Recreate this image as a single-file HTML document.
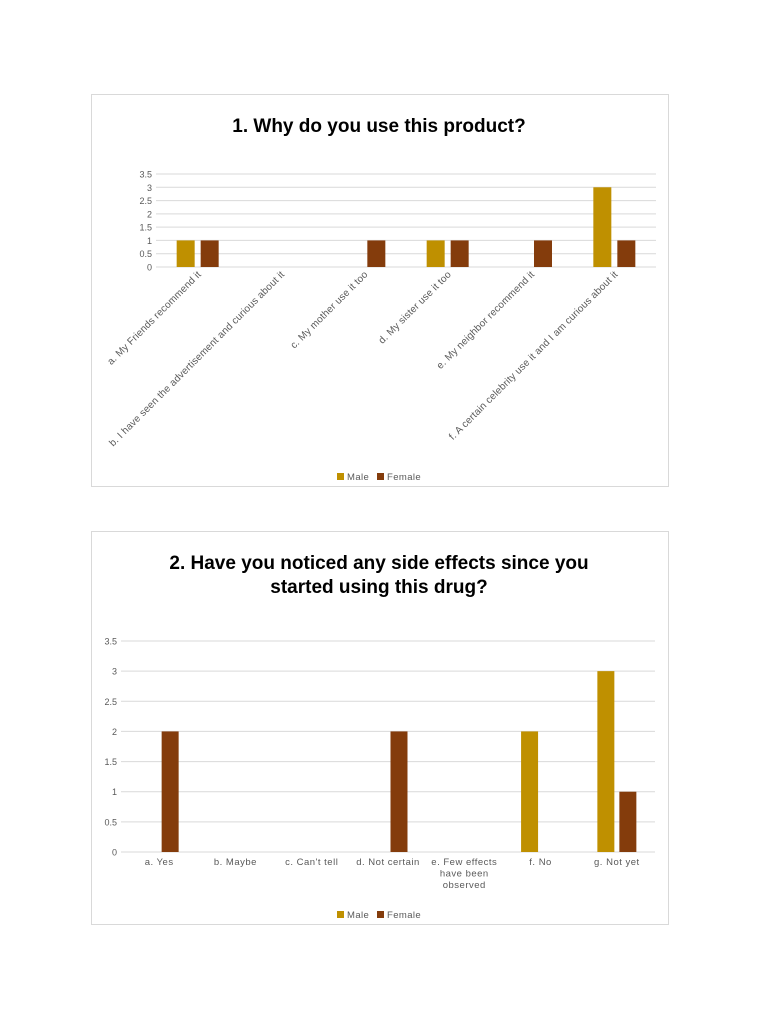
<!DOCTYPE html>
<html><head><meta charset="utf-8"><style>
body{margin:0;background:#fff;width:768px;height:1024px;overflow:hidden;font-family:"Liberation Sans",sans-serif}
svg text{font-family:"Liberation Sans",sans-serif}
</style></head><body>
<svg id="s" width="768" height="1024">
<rect x="91.5" y="94.5" width="577" height="392" fill="#fff" stroke="#d9d9d9"/>
<rect x="91.5" y="531.5" width="577" height="393" fill="#fff" stroke="#d9d9d9"/>
<text x="379" y="132" font-size="19" font-weight="bold" text-anchor="middle" fill="#000">1. Why do you use this product?</text>
<text x="379" y="569" font-size="19" font-weight="bold" text-anchor="middle" fill="#000">2. Have you noticed any side effects since you</text>
<text x="379" y="593" font-size="19" font-weight="bold" text-anchor="middle" fill="#000">started using this drug?</text>
<g id="c1"></g><g id="c2"></g>
</svg>
<script>
const MALE="#bf9000", FEMALE="#843c0c";
const cats1=["a. My Friends recommend it","b. I have seen the advertisement and curious about it","c. My mother use it too","d. My sister use it too","e. My neighbor recommend it","f. A certain celebrity use it and I am curious about it"];
const male1=[1,0,0,1,0,3];
const female1=[1,0,1,1,1,1];
const cats2=[["a. Yes"],["b. Maybe"],["c. Can't tell"],["d. Not certain"],["e. Few effects","have been","observed"],["f. No"],["g. Not yet"]];
const male2=[0,0,0,0,0,2,3];
const female2=[2,0,0,2,0,0,1];
const ticks=[0,0.5,1,1.5,2,2.5,3,3.5];
const tickLabels=["0","0.5","1","1.5","2","2.5","3","3.5"];
const NS="http://www.w3.org/2000/svg";
function mk(p,t,a){const e=document.createElementNS(NS,t);for(const k in a)e.setAttribute(k,a[k]);p.appendChild(e);return e;}
function chart(g,cfg){
 const {x0,x1,y0,y1,cats,male,female,bw,gap,rot,fs,legY}=cfg;
 const ys=v=>y0-(v/3.5)*(y0-y1);
 const n=cats.length, cw=(x1-x0)/n;
 const xc=i=>x0+cw*(i+0.5);
 ticks.forEach((t,i)=>{
  const l=mk(g,"line",{x1:x0,x2:x1,y1:ys(t),y2:ys(t),stroke:"#d9d9d9","stroke-width":1});
  
  
  const tx=mk(g,"text",{x:x0-4,y:ys(t)+3.5,"font-size":fs,"text-anchor":"end",fill:"#595959"});
  tx.textContent=tickLabels[i];
  
  
 });
 cats.forEach((c,i)=>{
  const cx=xc(i);
  [[male[i],MALE,-1,"male"],[female[i],FEMALE,1,"female"]].forEach(([v,col,s,nm])=>{
   const bx=s<0?cx-gap/2-bw:cx+gap/2;
   const r=mk(g,"rect",{x:bx,y:ys(v),width:bw,height:ys(0)-ys(v),fill:col});
   
   
  });
  if(rot){
   const tx=mk(g,"text",{x:cx+4,y:y0+8,"font-size":10,"letter-spacing":"0.15","text-anchor":"end",fill:"#595959",transform:`rotate(-45 ${cx+4} ${y0+8})`});
   tx.textContent=c;
   
   
  } else {
   c.forEach((ln,k)=>{
    const tx=mk(g,"text",{x:cx,y:y0+13+k*11.5,"font-size":9.5,"letter-spacing":"0.5","text-anchor":"middle",fill:"#595959"});
    tx.textContent=ln;
    
    
   });
  }
 });
 const lg=mk(g,"g",{});
 
 
 const r1=mk(lg,"rect",{x:337,y:legY-7,width:7,height:7,fill:MALE});
 
 
 const t1=mk(lg,"text",{x:347,y:legY,"font-size":9.5,"letter-spacing":"0.4",fill:"#595959"});t1.textContent="Male";
 
 
 const r2=mk(lg,"rect",{x:377,y:legY-7,width:7,height:7,fill:FEMALE});
 
 
 const t2=mk(lg,"text",{x:387,y:legY,"font-size":9.5,"letter-spacing":"0.4",fill:"#595959"});t2.textContent="Female";
 
 
}
const g1=document.getElementById("c1");


const g2=document.getElementById("c2");


chart(g1,{x0:156,x1:656,y0:267,y1:174,cats:cats1,male:male1,female:female1,bw:18,gap:6,rot:true,fs:9,legY:480});
chart(g2,{x0:121,x1:655,y0:852,y1:641,cats:cats2,male:male2,female:female2,bw:17,gap:5,rot:false,fs:9,legY:918});
</script>
</body></html>
